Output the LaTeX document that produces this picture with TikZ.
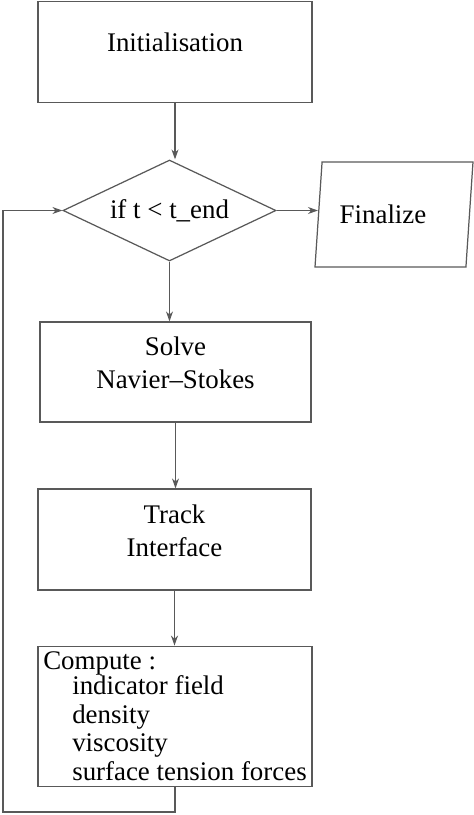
\documentclass[tikz,border=0pt]{standalone}
\usepackage{fontspec}
\setmainfont{Liberation Serif}
\usetikzlibrary{shapes.geometric, arrows.meta, positioning}
\newcommand{\flowfont}{\fontsize{15.3}{18.8}\selectfont}
% two centred lines, set a little above the middle of the box
\newcommand{\twolines}[2]{\raisebox{0pt}[0pt][0pt]{\begin{tabular}{@{}c@{}}#1\\#2\end{tabular}}}

\begin{document}
\begin{tikzpicture}[
    block/.style={rectangle, draw=black!65, line width=0.7pt, minimum width=5.46cm, minimum height=2.02cm, align=center, font=\flowfont},
    decision/.style={diamond, aspect=2.11, draw=black!65, line width=0.7pt, minimum width=4.26cm, minimum height=2.02cm, inner sep=0pt, font=\flowfont},
    io/.style={trapezium, trapezium left angle=77, trapezium right angle=103, trapezium stretches body, draw=black!65, line width=0.7pt, minimum width=3.16cm, minimum height=2.1cm, font=\flowfont},
    arrow/.style={-{Stealth[length=2mm,width=1.4mm]}, draw=black!65, line width=0.7pt}
  ]
  \useasboundingbox (0,0) rectangle (9.48,-16.30);

  % ---- main column ----
  \node[block, minimum width=5.48cm, text height=0.4cm, text depth=0.44cm] (init) at (3.50,-1.04) {Initialisation};
  \node[decision] (test) at (3.39,-4.21) {if t < t\_end};
  \node[io] (final) at (7.88,-4.29) {\hspace*{-0.44cm}Finalize};
  \node[block, minimum width=5.42cm, minimum height=2.0cm] (solve) at (3.51,-7.44) {\twolines{Solve}{Navier--Stokes}};
  \node[block] (track) at (3.49,-10.79) {\twolines{Track}{Interface}};
  \node[block, minimum width=5.48cm, minimum height=2.70cm, align=left, inner xsep=0.1cm,
        font=\fontsize{15.3}{16.4}\selectfont] (compute) at (3.50,-14.33)
    {Compute :\\[-2.5pt]
     \hspace*{0.58cm}indicator field\\
     \hspace*{0.58cm}density\\
     \hspace*{0.58cm}viscosity\\
     \hspace*{0.58cm}surface tension forces};

  % ---- connectors ----
  \draw[arrow] (init.south) -- (init.south |- test.north);
  \draw[arrow] (test.east) -- (test.east -| final.west);
  \draw[arrow] (test.south) -- (test.south |- solve.north);
  \draw[arrow] (solve.south) -- (solve.south |- track.north);
  \draw[arrow] (track.south) -- (track.south |- compute.north);

  % retour de boucle
  \coordinate (loopend) at (0.06,-16.24);
  \draw[arrow] (compute.south) |- (loopend) |- (test.west);
\end{tikzpicture}
\end{document}
